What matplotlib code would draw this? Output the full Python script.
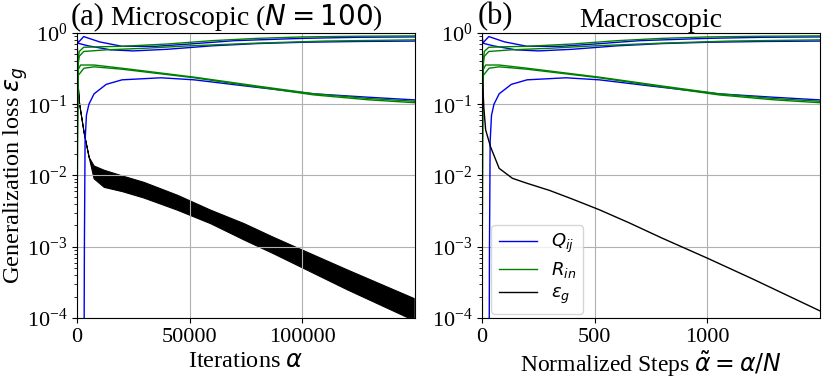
import numpy as np
import matplotlib
matplotlib.use('Agg')
import matplotlib.pyplot as plt

plt.rcParams['font.family'] = ['Liberation Serif', 'DejaVu Serif']
plt.rcParams['mathtext.fontset'] = 'dejavusans'

N = 100

# order parameters (x = alpha / N)
q11_x = [0, 3, 30, 100, 200, 350, 500, 700, 1000, 1250, 1500]
q11_y = [0.95, 0.72, 0.89, 0.75, 0.65, 0.65, 0.70, 0.78, 0.84, 0.87, 0.88]
q22_x = [0, 3, 50, 150, 250, 400, 600, 800, 1000, 1250, 1500]
q22_y = [0.95, 0.72, 0.66, 0.58, 0.56, 0.59, 0.66, 0.71, 0.74, 0.76, 0.77]
q12_x = [0, 30, 33, 36, 42, 53, 76, 130, 200, 373, 520, 750, 1050, 1300, 1500]
q12_y = [1e-7, 1e-6, 1e-3, 0.03, 0.07, 0.10, 0.14, 0.19, 0.22, 0.235, 0.22, 0.18, 0.14,
         0.125, 0.115]

r1_x = [0, 1, 2, 5, 10, 30, 100, 200, 400, 600, 800, 1000, 1250, 1500]
r1_y = [1e-6, 1e-3, 0.05, 0.40, 0.55, 0.63, 0.64, 0.65, 0.70, 0.78, 0.84, 0.88, 0.90, 0.91]
r2_x = [0, 1, 2, 5, 10, 30, 130, 300, 500, 800, 1100, 1500]
r2_y = [1e-6, 1e-3, 0.03, 0.35, 0.47, 0.55, 0.58, 0.61, 0.66, 0.72, 0.77, 0.80]
r3_x = [0, 1, 2, 4, 16, 76, 200, 520, 800, 1053, 1300, 1500]
r3_y = [1e-6, 1e-3, 0.05, 0.30, 0.355, 0.355, 0.32, 0.24, 0.18, 0.14, 0.12, 0.11]
r4_x = [0, 1, 2, 4, 31, 76, 200, 520, 800, 1053, 1300, 1500]
r4_y = [1e-6, 1e-3, 0.03, 0.25, 0.32, 0.335, 0.31, 0.235, 0.175, 0.135, 0.115, 0.105]

# generalization loss, macroscopic (log10 values)
eps_x = [0, 3, 8, 16, 38, 76, 135, 200, 300, 400, 520, 650, 800, 1000, 1200, 1500]
eps_log = [-0.2, -0.7, -1.05, -1.36, -1.60, -1.90, -2.04, -2.11, -2.21, -2.33, -2.48,
           -2.66, -2.88, -3.16, -3.45, -3.90]

# generalization loss, microscopic (noisy band: upper / lower edge, log10)
mic_x = [0, 300, 800, 1500, 3000, 5200, 7400, 11900, 20000, 29600, 44400, 59200,
         74100, 87000, 100600, 120000, 149500]
mic_hi = [-0.2, -0.7, -0.95, -1.1, -1.4, -1.74, -1.86, -1.92, -2.0, -2.09, -2.27,
          -2.48, -2.67, -2.86, -3.05, -3.32, -3.72]
mic_lo = [-0.2, -0.7, -0.95, -1.1, -1.4, -1.74, -2.04, -2.16, -2.22, -2.31, -2.48,
          -2.67, -2.90, -3.09, -3.30, -3.60, -4.03]

Q = [(q11_x, q11_y), (q22_x, q22_y), (q12_x, q12_y)]
R = [(r1_x, r1_y), (r2_x, r2_y), (r3_x, r3_y), (r4_x, r4_y)]

fig = plt.figure(figsize=(8.24, 3.79), dpi=100)
ax1 = fig.add_axes([0.0934, 0.161, 0.410, 0.752])
ax2 = fig.add_axes([0.585, 0.161, 0.410, 0.752])


def draw_params(ax, scale):
    for i, (x, y) in enumerate(Q):
        ax.plot(np.array(x) * scale, y, color='#0000ee', lw=1.0,
                label=r'$Q_{ij}$' if i == 0 else None)
    for i, (x, y) in enumerate(R):
        ax.plot(np.array(x) * scale, y, color='#008000', lw=1.0,
                label=r'$R_{in}$' if i == 0 else None)


draw_params(ax1, N)
ax1.fill_between(mic_x, 10.0 ** np.array(mic_lo), 10.0 ** np.array(mic_hi),
                 color='black', lw=0.8, edgecolor='black')

draw_params(ax2, 1)
ax2.plot(eps_x, 10.0 ** np.array(eps_log), color='black', lw=1.0, label=r'$\epsilon_g$')

for ax in (ax1, ax2):
    ax.set_yscale('log')
    ax.set_ylim(1e-4, 1)
    ax.grid(True, which='major', color='#b0b0b0', lw=0.8)
    ax.tick_params(labelsize=16)

ax1.set_xlim(0, 150000)
ax1.set_xticks([0, 50000, 100000])
ax2.set_xlim(0, 1500)
ax2.set_xticks([0, 500, 1000])

ax1.set_xlabel(r'Iterations $\alpha$', fontsize=17.5, labelpad=3)
ax2.set_xlabel(r'Normalized Steps $\tilde{\alpha}=\alpha/N$', fontsize=17, labelpad=2)
ax1.set_ylabel(r'Generalization loss $\epsilon_g$', fontsize=17.5)
ax1.yaxis.set_label_coords(-0.14, 0.5)

ax1.set_title(r'Microscopic ($N=100$)', fontsize=20, pad=3)
ax2.set_title('Macroscopic', fontsize=20, pad=3)
ax1.text(-0.018, 1.005, '(a)', transform=ax1.transAxes, fontsize=22, va='bottom')
ax2.text(-0.014, 1.005, '(b)', transform=ax2.transAxes, fontsize=22, va='bottom')

ax2.legend(loc='lower left', bbox_to_anchor=(0.028, 0.015), borderaxespad=0,
           handlelength=2.1, labelspacing=0.25, handletextpad=0.8,
           prop={'family': 'DejaVu Sans', 'size': 13})

fig.savefig('out.png', dpi=100)
